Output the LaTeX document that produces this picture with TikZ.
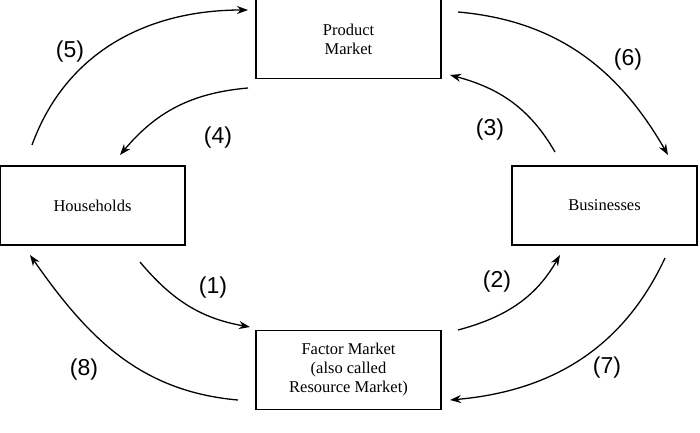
\documentclass[tikz,border=0pt]{standalone}
\usepackage{fontspec}
\setmainfont{Liberation Serif}
\newfontfamily\lab{Liberation Sans}
\usetikzlibrary{arrows.meta}
\begin{document}
\begin{tikzpicture}[x=1pt,y=1pt,
  box/.style={draw,line width=1.3pt,minimum width=185pt,minimum height=79pt,align=center,font=\fontsize{16.5}{19}\selectfont,inner sep=0pt},
  arr/.style={line width=1.3pt,-{Stealth[length=11pt,width=8pt]}},
  num/.style={font=\lab\fontsize{23}{26}\selectfont}]
\useasboundingbox (0,0) rectangle (700,432);
\node[box] (pm) at (348.5,393) {Product\\Market};
\node[box] (hh) at (92.5,226.5) {Households};
\node[box] (bs) at (604.5,226.5) {Businesses};
\node[box] (fm) at (348.5,62) {Factor Market\\(also called\\Resource Market)};
\coordinate (a5) at (32,287); \coordinate (b5) at (248,422);
\coordinate (a4) at (248,344); \coordinate (b4) at (120,277);
\coordinate (a3) at (555,280); \coordinate (b3) at (450,357);
\coordinate (a6) at (458,420); \coordinate (b6) at (668,277);
\coordinate (a1) at (140,170); \coordinate (b1) at (250,105);
\coordinate (a2) at (458,102); \coordinate (b2) at (560,177);
\coordinate (a8) at (238,32); \coordinate (b8) at (30,177);
\coordinate (a7) at (665,174); \coordinate (b7) at (450,32);
\draw[arr] (a5) to[out=70,in=180] (b5);
\draw[arr] (a4) to[out=185,in=50] (b4);
\draw[arr] (a3) to[out=120,in=-15] (b3);
\draw[arr] (a6) to[out=-5,in=120] (b6);
\draw[arr] (a1) to[out=-50,in=170] (b1);
\draw[arr] (a2) to[out=15,in=-120] (b2);
\draw[arr] (a8) to[out=175,in=-55] (b8);
\draw[arr] (a7) to[out=-115,in=5] (b7);
\node[num] (n5) at (70,380) {(5)};
\node[num] (n4) at (218,294) {(4)};
\node[num] (n3) at (490,302) {(3)};
\node[num] (n6) at (628,372) {(6)};
\node[num] (n1) at (213,144) {(1)};
\node[num] (n2) at (497,150) {(2)};
\node[num] (n8) at (84,62) {(8)};
\node[num] (n7) at (607,64) {(7)};
\end{tikzpicture}
\end{document}
